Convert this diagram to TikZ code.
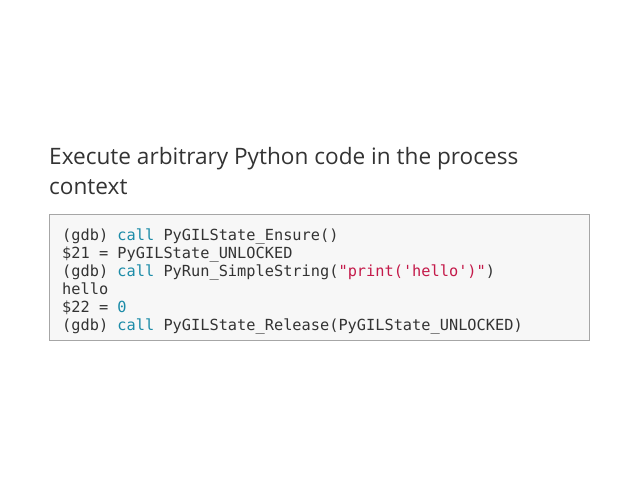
\documentclass[tikz,border=0pt]{standalone}
\usepackage{fontspec}
\setmainfont{Open Sans}
\newfontfamily\codefont{DejaVu Sans Mono}
\definecolor{kw}{HTML}{1C8CA8}
\definecolor{str}{HTML}{C41A4A}
\definecolor{txt}{HTML}{333333}
\tikzset{codeline/.style={anchor=base west,inner sep=0,font=\codefont\fontsize{15.3}{17}\selectfont,text=txt},
title/.style={anchor=base west,inner sep=0,font=\fontsize{22.6}{30}\selectfont,text=txt}}
\begin{document}
\begin{tikzpicture}[x=1pt,y=-1pt]
\useasboundingbox (0,0) rectangle (638,480);
\node[title] (t1) at (49,164) {Execute arbitrary Python code in the process};
\node[title] (t2) at (49,194) {context};
\node[draw=black!35,fill=black!3,line width=0.8pt,minimum width=540pt,minimum height=126pt,anchor=north west,inner sep=0] (box) at (49,214) {};
\node[codeline] (c1) at (62,240) {(gdb) \textcolor{kw}{call} PyGILState\_Ensure()};
\node[codeline] (c2) at (62,258) {\$21 = PyGILState\_UNLOCKED};
\node[codeline] (c3) at (62,276) {(gdb) \textcolor{kw}{call} PyRun\_SimpleString(\textcolor{str}{"print('hello')"})};
\node[codeline] (c4) at (62,294) {hello};
\node[codeline] (c5) at (62,312) {\$22 = \textcolor{kw}{0}};
\node[codeline] (c6) at (62,330) {(gdb) \textcolor{kw}{call} PyGILState\_Release(PyGILState\_UNLOCKED)};
\end{tikzpicture}
\end{document}
